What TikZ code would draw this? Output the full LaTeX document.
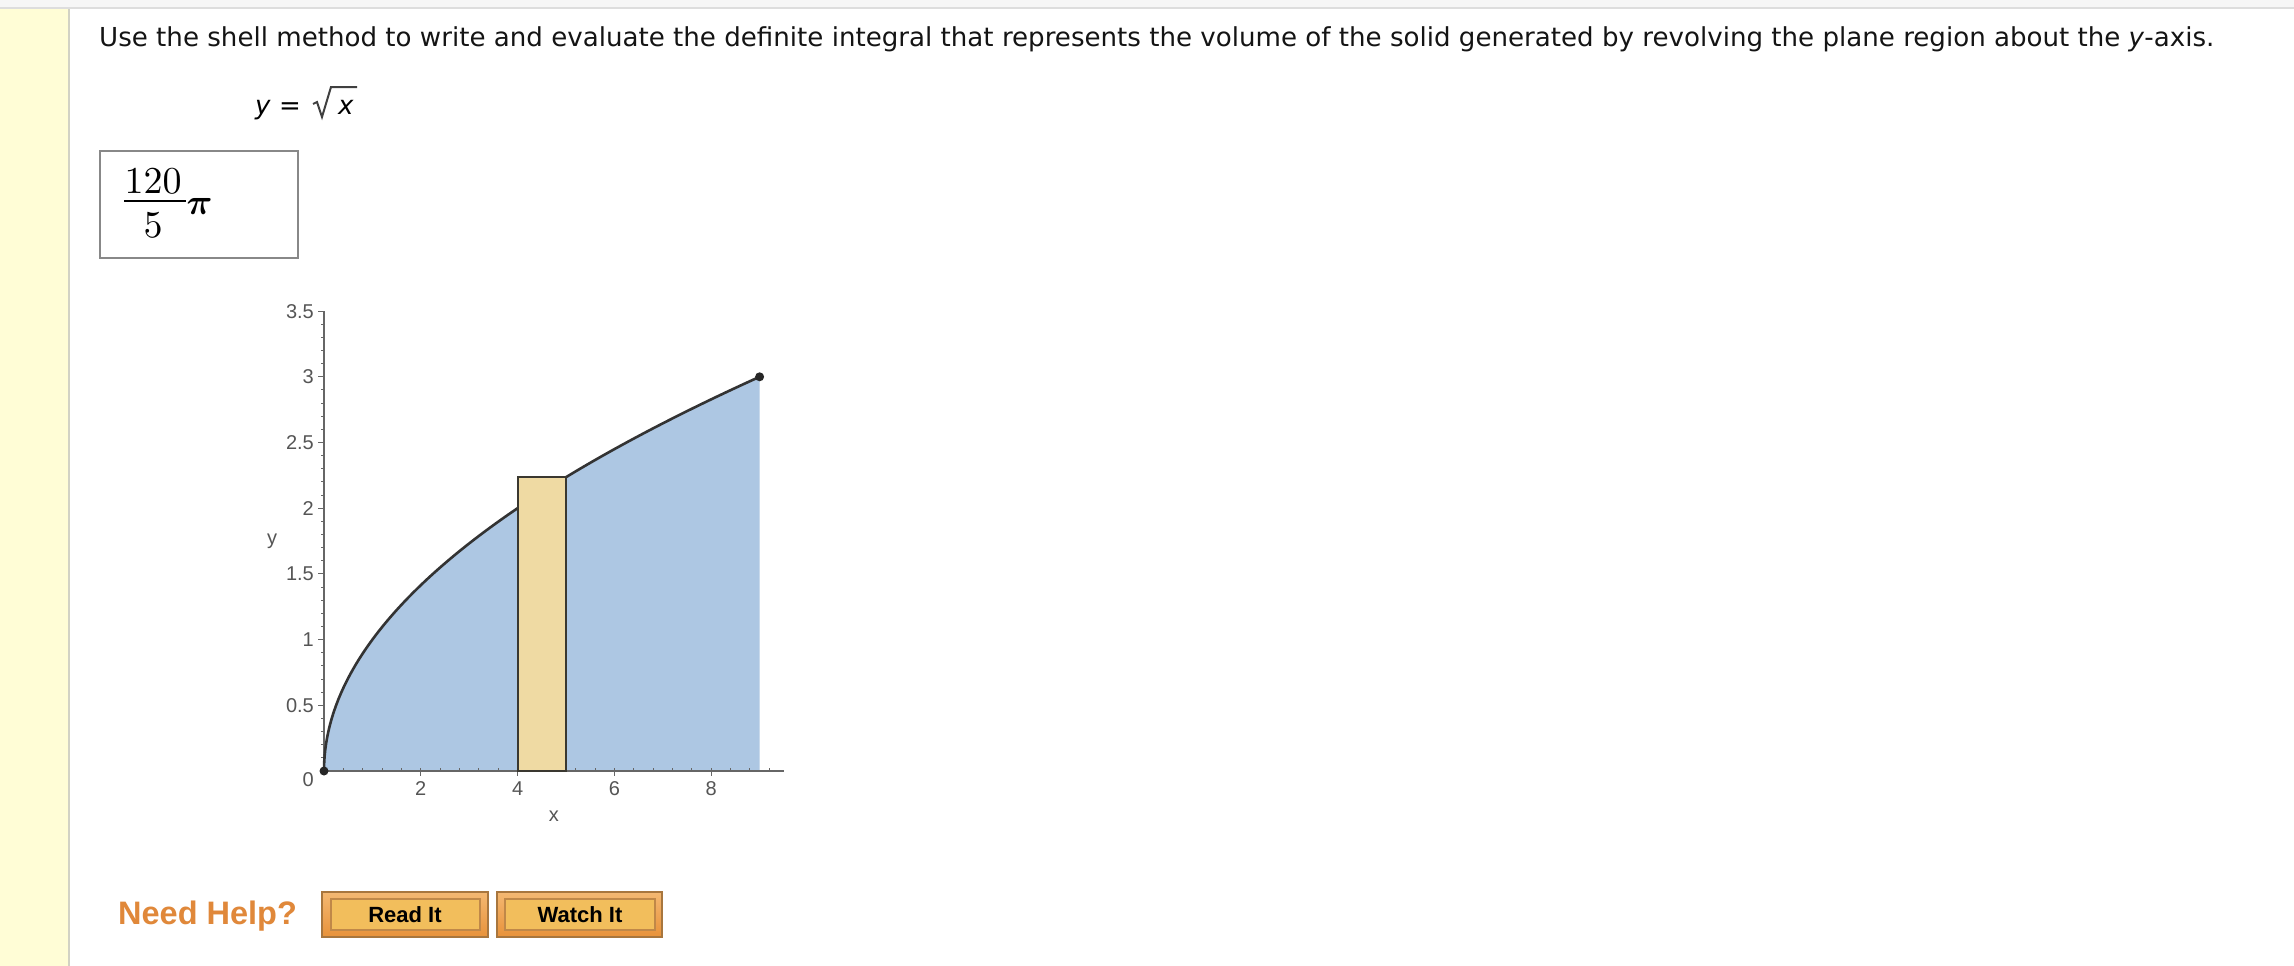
\documentclass[tikz,border=0pt]{standalone}
\usepackage{amsmath,amsbsy}
\usepackage[no-math]{fontspec}
\setmainfont{DejaVu Sans}
\newfontfamily\helv{Liberation Sans}
\definecolor{topgray}{HTML}{F6F6F6}
\definecolor{linegray}{HTML}{DDDDDD}
\definecolor{sideyellow}{HTML}{FFFDD6}
\definecolor{sideline}{HTML}{D2D2C4}
\definecolor{boxgray}{HTML}{888888}
\definecolor{regionblue}{HTML}{ADC7E3}
\definecolor{shelltan}{HTML}{EFDAA3}
\definecolor{shelledge}{HTML}{3A3830}
\definecolor{axisgray}{HTML}{666666}
\definecolor{labelgray}{HTML}{555555}
\definecolor{helporange}{HTML}{E0883A}
\definecolor{btnedge}{HTML}{A8763E}
\definecolor{btntop}{HTML}{F4B872}
\definecolor{btnbot}{HTML}{E8923A}
\definecolor{btninner}{HTML}{F2BE5C}
\definecolor{btninneredge}{HTML}{C08848}
\tikzset{
  ticklabel/.style={font=\helv\fontsize{20}{23}\selectfont, text=labelgray, inner sep=0pt},
  mathbig/.style={font=\fontsize{10}{12}\selectfont, inner sep=0pt, scale=3.8, transform shape},
  btnouter/.style={top color=btntop, bottom color=btnbot, draw=btnedge, line width=1.6pt},
  btninnerbox/.style={fill=btninner, draw=btninneredge, line width=1.3pt},
  btntext/.style={font=\helv\bfseries\fontsize{22}{24}\selectfont, text=black, inner sep=0pt}
}
\begin{document}
\begin{tikzpicture}[x=1pt,y=-1pt]
\useasboundingbox (0,0) rectangle (2294,966);
\fill[white] (0,0) rectangle (2294,966);
\fill[topgray] (0,0) rectangle (2294,7);
\fill[linegray] (0,7) rectangle (2294,9);
\fill[sideyellow] (0,9) rectangle (68,966);
\fill[sideline] (68,9) rectangle (70,966);

% question
\node[anchor=base west, inner sep=0pt, font=\fontsize{26.1}{31}\selectfont, text=black!92] (question) at (99,47)
  {Use the shell method to write and evaluate the definite integral that represents the volume of the solid generated by revolving the plane region about the \textit{y}-axis.};

% equation y = sqrt(x)
\node[anchor=base west, inner sep=0pt, font=\fontsize{26}{31}\selectfont] (eqy) at (255,114) {\textit{y} =};
\node[anchor=base west, inner sep=0pt, font=\fontsize{26}{31}\selectfont] (eqx) at (338,114) {\textit{x}};
\draw[line width=2pt, black!75, line join=miter] (313,104) -- (317,102) -- (322,117) -- (331,87) -- (357,87);

% answer box
\draw[boxgray, line width=2pt] (100,151) rectangle (298,258);
\node[mathbig, anchor=base] (num) at (153,193) {$120$};
\draw[line width=2pt] (124,201) -- (186,201);
\node[mathbig, anchor=base] (den) at (153,237) {$5$};
\node[mathbig, anchor=base west, scale=0.95] (pi) at (186,214) {$\boldsymbol{\pi}$};

% plot
\begin{scope}[shift={(324,771)}, x=48.4pt, y=131.4pt]
  \fill[regionblue] (0,0) -- plot[domain=0:3, samples=120, smooth] ({\x*\x},\x) -- (9,0) -- cycle;
  % axes
  \draw[axisgray, line width=1.3pt] (0,0) -- (9.5,0);
  \draw[axisgray, line width=1.3pt] (0,0) -- (0,3.5);
  \foreach \i in {1,...,35} {
    \draw[axisgray, line width=1pt] (0,\i/10) -- ++(-3pt,0pt);
  }
  \foreach \v in {0.5,1,1.5,2,2.5,3,3.5} {
    \draw[axisgray, line width=1pt] (0,\v) -- ++(-6pt,0pt);
    \node[ticklabel, anchor=base east, xshift=-10pt, yshift=-7pt] at (0,\v) {\v};
  }
  \foreach \i in {1,...,23} {
    \draw[axisgray, line width=1pt] (\i*0.4,0) -- ++(0pt,3pt);
  }
  \foreach \v in {2,4,6,8} {
    \draw[axisgray, line width=1pt] (\v,0) -- ++(0pt,-5pt);
    \node[ticklabel, anchor=base, yshift=-24pt] at (\v,0) {\v};
  }
  \node[ticklabel, anchor=base east, xshift=-10pt, yshift=-15pt] (zero) at (0,0) {0};
  \node[ticklabel, anchor=base] (xlab) at (4.75,0) [yshift=-50pt] {x};
  \node[ticklabel, anchor=center] (ylab) at (0,1.75) [xshift=-52pt] {y};
  % curve
  \draw[black!80, line width=2.6pt] plot[domain=0:2, samples=80, smooth] ({\x*\x},\x);
  \draw[black!80, line width=2.6pt] plot[domain=2.2360679:3, samples=30, smooth] ({\x*\x},\x);
  % shell rectangle
  \draw[fill=shelltan, draw=shelledge, line width=2.2pt] (4,0) rectangle (5,2.2360679);
  \fill[black!85] (0,0) circle (4.5pt);
  \fill[black!85] (9,3) circle (4.5pt);
\end{scope}

% need help
\node[anchor=base west, inner sep=0pt, font=\helv\bfseries\fontsize{32.5}{36}\selectfont, text=helporange] (help) at (118,924) {Need Help?};
\draw[btnouter] (322,892) rectangle (488,937);
\draw[btninnerbox] (331,899) rectangle (480,930);
\node[btntext] (readit) at (405,915) {Read It};
\draw[btnouter] (497,892) rectangle (662,937);
\draw[btninnerbox] (505,899) rectangle (655,930);
\node[btntext] (watchit) at (580,915) {Watch It};
\end{tikzpicture}
\end{document}
